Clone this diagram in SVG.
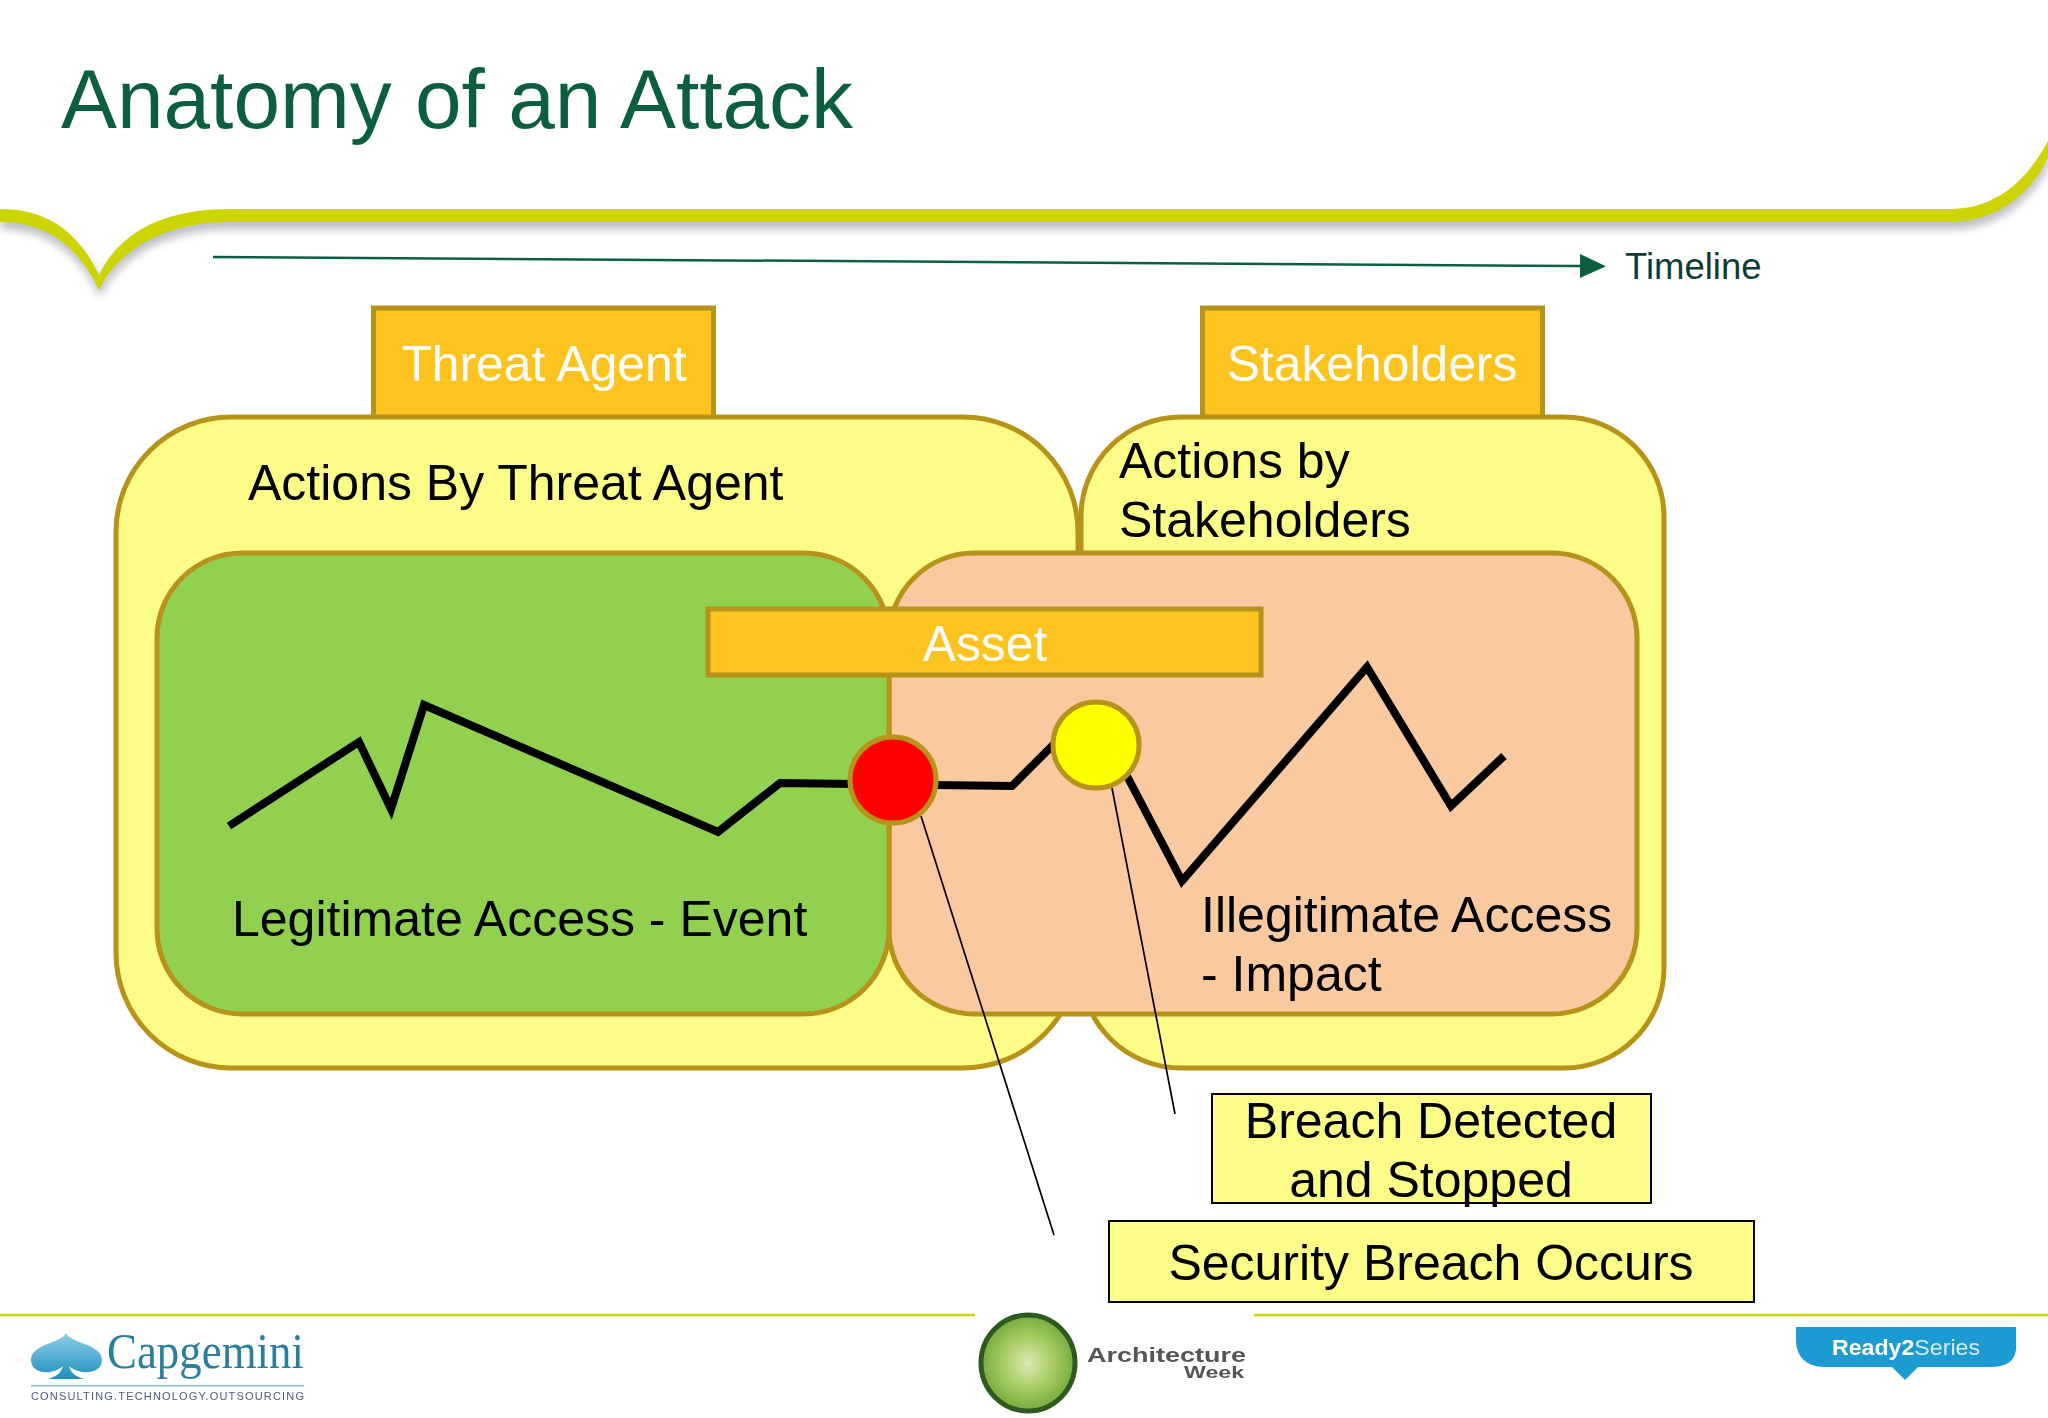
<svg xmlns="http://www.w3.org/2000/svg" width="2048" height="1418" viewBox="0 0 2048 1418">
<style>
text{font-family:"Liberation Sans",Arial,sans-serif}
.pan{stroke:#b8931a;stroke-width:5}
.lab{font-size:50px;fill:#000}
.wh{font-size:49.800px;fill:#fff}
.hd{fill:#fdc41f;stroke:#b8931a;stroke-width:5}
.call{fill:#fcfc88;stroke:#000;stroke-width:2}
.trace{fill:none;stroke:#000;stroke-width:8;stroke-linejoin:miter}
.thin{stroke:#000;stroke-width:1.7;fill:none}
.foot{stroke:#cdd500;stroke-width:2.5}
</style>
<defs>
<marker id="arr" markerWidth="26" markerHeight="24" refX="0" refY="12" orient="auto" markerUnits="userSpaceOnUse"><path d="M0 0L26 12L0 24Z" fill="#0b5f3f"/></marker>
<filter id="sh" x="-5%" y="-30%" width="110%" height="170%"><feGaussianBlur stdDeviation="4"/></filter>
<filter id="soft" x="-5%" y="-20%" width="110%" height="140%"><feGaussianBlur stdDeviation="0.6"/></filter>
<radialGradient id="orb"><stop offset="0" stop-color="#dbeab4"/><stop offset=".55" stop-color="#a6cc62"/><stop offset="1" stop-color="#76aa3c"/></radialGradient>
<linearGradient id="spade" x1="0" y1="0" x2="0" y2="1"><stop offset="0" stop-color="#8fd0e8"/><stop offset="1" stop-color="#1f8fc0"/></linearGradient>
<path id="band" d="M0 209C50 209 80 235 99 275C118 235 160 209 230 209L1950 209C2000 209 2030 175 2048 141L2048 158C2030 195 1995 222 1950 222L230 222C165 222 118 250 99 290C80 250 50 222 0 222Z"/>
</defs>
<rect width="2048" height="1418" fill="#fff"/>
<g id="swoosh">
<use href="#band" fill="#8e8e9c" opacity=".6" transform="translate(1 7)" filter="url(#sh)"/>
<use href="#band" fill="#cdd500"/>
</g>
<text id="title" x="61" y="128" font-size="83.800" fill="#0b5f3f">Anatomy of an Attack</text>
<g id="threat-agent-tab"><rect class="hd" x="373.500" y="308" width="340" height="110"/><text class="wh" x="544" y="381" text-anchor="middle">Threat Agent</text></g>
<g id="stakeholders-tab"><rect class="hd" x="1202.500" y="308" width="340" height="110"/><text class="wh" x="1372" y="381" text-anchor="middle">Stakeholders</text></g>
<g id="actions-stakeholders"><rect class="pan" x="1081" y="417" width="583" height="651" rx="100" fill="#fcfc88"/><text class="lab" x="1119" y="478">Actions by</text><text class="lab" x="1119" y="537">Stakeholders</text></g>
<g id="actions-threat"><rect class="pan" x="116" y="417" width="962" height="651" rx="115" fill="#fcfc88"/><text class="lab" x="248" y="500">Actions By Threat Agent</text></g>
<g id="illegitimate"><rect class="pan" x="889" y="553" width="748" height="461" rx="85" fill="#f9caa0"/><text class="lab" x="1201" y="932">Illegitimate Access</text><text class="lab" x="1201" y="991">- Impact</text></g>
<g id="legitimate"><rect class="pan" x="157" y="553" width="732" height="461" rx="85" fill="#92d050"/><text class="lab" x="232" y="936">Legitimate Access - Event</text></g>
<g id="asset"><rect class="hd" x="708" y="609" width="553" height="66"/><text class="wh" x="985" y="661" text-anchor="middle">Asset</text></g>
<g id="connectors">
<line x1="213" y1="257" x2="1580" y2="266" stroke="#0b5f3f" stroke-width="2.500" marker-end="url(#arr)"/>
<polyline class="trace" points="229,826 359,742 391,809 424,705 718,832 780,783 1012,786 1060,738"/>
<polyline class="trace" points="1127,776 1182,881 1367,667 1451,806 1504,756"/>
<line class="thin" x1="921" y1="816" x2="1054" y2="1235"/>
<line class="thin" x1="1112" y1="788" x2="1175" y2="1114"/>
</g>
<g id="breach-occurs"><circle cx="893" cy="780" r="43" fill="#f00" stroke="#b8931a" stroke-width="5"/></g>
<g id="breach-stopped"><circle cx="1096" cy="745" r="43" fill="#ff0" stroke="#b8931a" stroke-width="5"/></g>
<g id="timeline-label"><text x="1625" y="279" font-size="36.500" fill="#0d3d33">Timeline</text></g>
<g id="breach-detected"><rect class="call" x="1212" y="1094" width="439" height="109"/><text class="lab" x="1431" y="1138" text-anchor="middle">Breach Detected</text><text class="lab" x="1431" y="1197" text-anchor="middle">and Stopped</text></g>
<g id="security-breach"><rect class="call" x="1109" y="1221" width="645" height="81"/><text class="lab" x="1431" y="1280" text-anchor="middle">Security Breach Occurs</text></g>
<g id="footer">
<line class="foot" x1="0" y1="1315" x2="975" y2="1315"/><line class="foot" x1="1254" y1="1315" x2="2048" y2="1315"/>
<g filter="url(#soft)">
<path d="M66 1333C70 1343 102 1344 102 1360C102 1374 80 1376 69 1366C71 1372 74 1376 84 1379L48 1379C58 1376 61 1372 63 1366C52 1376 31 1374 31 1360C31 1344 62 1343 66 1333Z" fill="url(#spade)"/>
<text x="107" y="1368" font-size="50" textLength="197" lengthAdjust="spacingAndGlyphs" fill="#2a7f9f" style="font-family:'Liberation Serif',serif">Capgemini</text>
<rect x="31" y="1385" width="273" height="1.500" fill="#8fbcd0"/>
<text x="31" y="1400" font-size="11" textLength="273" fill="#4a5a85">CONSULTING.TECHNOLOGY.OUTSOURCING</text>
<ellipse cx="1028" cy="1363" rx="47" ry="48" fill="url(#orb)" stroke="#2f5a22" stroke-width="5"/>
<text x="1087" y="1362" font-size="21" font-weight="bold" fill="#555" textLength="159" lengthAdjust="spacingAndGlyphs">Architecture</text>
<text x="1184" y="1378" font-size="17" font-weight="bold" fill="#555" textLength="60" lengthAdjust="spacingAndGlyphs">Week</text>
<path d="M1796 1327L2016 1327L2016 1350C2014 1362 2006 1367 1990 1367L1918 1367L1905 1380L1892 1367L1825 1367C1805 1367 1796 1355 1796 1340Z" fill="#1c9ad2"/>
<text x="1832" y="1355" font-size="22" fill="#fff" textLength="148" lengthAdjust="spacingAndGlyphs"><tspan font-weight="bold">Ready2</tspan><tspan fill="#d5ecf7">Series</tspan></text>
</g>
</g>
</svg>
